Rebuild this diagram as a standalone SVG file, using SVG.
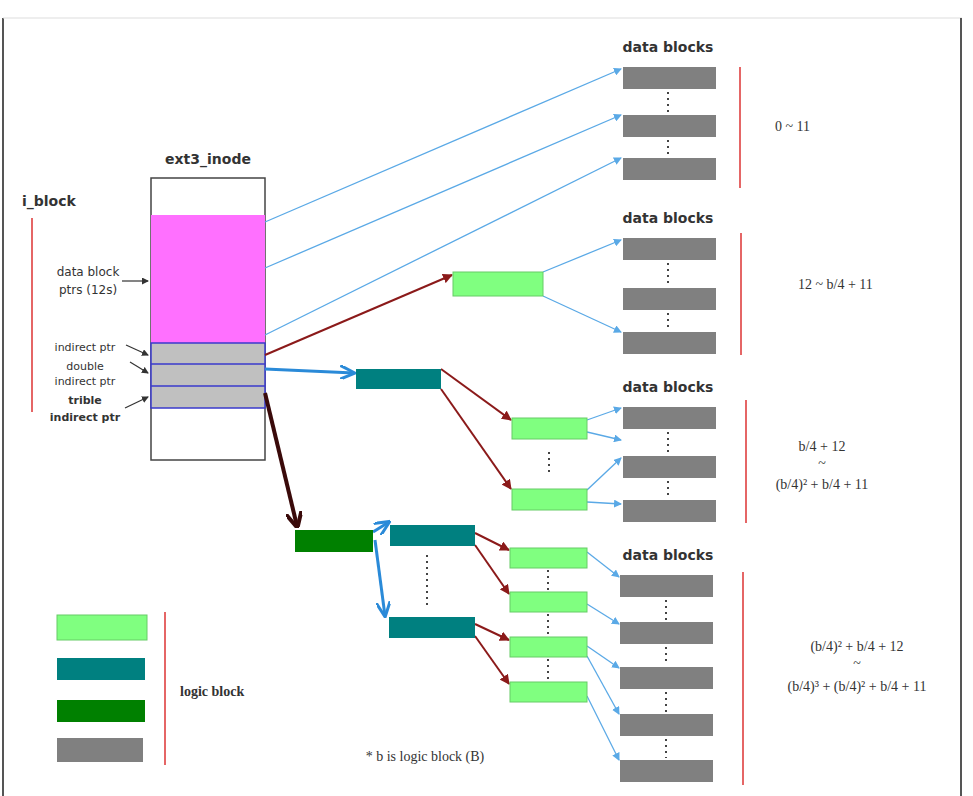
<svg xmlns="http://www.w3.org/2000/svg" width="973" height="796" viewBox="0 0 973 796">
<defs>
<style>
text{font-family:"DejaVu Sans","Liberation Sans",sans-serif;fill:#333}
.g{fill:#808080}.lg{fill:#80ff80;stroke:#6c6;stroke-width:1}.tl{fill:#008080}.dg{fill:#008000}
.b{stroke:#5aa9e6;stroke-width:1.3;fill:none;marker-end:url(#ab)}
.bt{stroke:#2a8ad8;stroke-width:3;fill:none;marker-end:url(#abt)}
.r{stroke:#8b1a1a;stroke-width:2;fill:none;marker-end:url(#ar)}
.k{stroke:#333;stroke-width:1.2;fill:none;marker-end:url(#ak)}
.rb{stroke:#d33;stroke-width:1.5}
.dot{stroke:#444;stroke-width:2;stroke-dasharray:2 4}
.lb{font-weight:bold;font-size:14px}
.f{font-size:14px;font-family:"Liberation Serif",serif}
</style>
<marker id="ab" markerWidth="8" markerHeight="8" refX="7" refY="4" orient="auto" markerUnits="userSpaceOnUse"><path d="M0,0L8,4L0,8z" fill="#5aa9e6"/></marker>
<marker id="abt" markerWidth="16" markerHeight="14" refX="14" refY="7" orient="auto" markerUnits="userSpaceOnUse"><path d="M0,0L15,7L0,14" fill="none" stroke="#2a8ad8" stroke-width="3"/></marker>
<marker id="ar" markerWidth="10" markerHeight="10" refX="9" refY="5" orient="auto" markerUnits="userSpaceOnUse"><path d="M0,0L10,5L0,10z" fill="#8b1a1a"/></marker>
<marker id="ak" markerWidth="7" markerHeight="7" refX="6" refY="3.5" orient="auto" markerUnits="userSpaceOnUse"><path d="M0,0L7,3.5L0,7z" fill="#333"/></marker>
<marker id="ad" markerWidth="16" markerHeight="16" refX="14" refY="8" orient="auto" markerUnits="userSpaceOnUse"><path d="M0,0L16,8L0,16" fill="none" stroke="#3a0a0a" stroke-width="4"/></marker>
</defs>
<rect width="973" height="796" fill="#fff"/>
<line x1="3" y1="18" x2="3" y2="796" stroke="#555" stroke-width="2"/>
<line x1="3" y1="18" x2="962" y2="18" stroke="#ddd"/>
<line x1="961" y1="18" x2="961" y2="796" stroke="#555" stroke-width="2"/>

<g id="inode">
<text x="208" y="164" text-anchor="middle" class="lb" font-size="16">ext3_inode</text>
<rect x="151" y="178" width="114" height="282" fill="#fff" stroke="#444" stroke-width="1.5"/>
<rect x="151" y="215" width="114" height="128" fill="#ff70ff"/>
<rect x="151" y="343" width="114" height="65" fill="#c0c0c0" stroke="#3a3acc" stroke-width="1.5"/>
<line x1="151" y1="364" x2="265" y2="364" stroke="#3a3acc" stroke-width="1.5"/>
<line x1="151" y1="386" x2="265" y2="386" stroke="#3a3acc" stroke-width="1.5"/>
<text x="22" y="206" class="lb">i_block</text>
<line x1="32" y1="218" x2="32" y2="412" class="rb"/>
<text x="88" y="276" text-anchor="middle" font-size="12">data block</text>
<text x="88" y="294" text-anchor="middle" font-size="12">ptrs  (12s)</text>
<text x="85" y="351" text-anchor="middle" font-size="11">indirect ptr</text>
<text x="85" y="370" text-anchor="middle" font-size="11">double</text>
<text x="85" y="385" text-anchor="middle" font-size="11">indirect ptr</text>
<text x="85" y="404" text-anchor="middle" font-size="11" font-weight="bold">trible</text>
<text x="85" y="421" text-anchor="middle" font-size="11" font-weight="bold">indirect ptr</text>
</g>

<g id="connectors">
<path class="k" d="M122,281L148,281"/>
<path class="k" d="M126,345L148,355"/>
<path class="k" d="M130,362L148,373"/>
<path class="k" d="M125,408L148,397"/>
<path class="b" d="M265,222L621,69"/>
<path class="b" d="M265,268L621,115"/>
<path class="b" d="M265,335L621,158"/>
<path class="r" d="M265,355L452,275"/>
<path class="b" d="M543,272L621,240"/>
<path class="b" d="M543,296L621,332"/>
<path class="bt" d="M265,369L354,373"/>
<path class="r" d="M441,369L511,420"/>
<path class="r" d="M441,389L511,489"/>
<path class="b" d="M587,420L621,408"/>
<path class="b" d="M587,432L621,440"/>
<path class="b" d="M587,490L621,458"/>
<path class="b" d="M587,502L621,504"/>
<path d="M265,393L297,526" stroke="#3a0a0a" stroke-width="4" fill="none" marker-end="url(#ad)"/>
<path class="bt" d="M373,532L389,522"/>
<path class="bt" d="M375,540L385,616"/>
<path class="r" d="M475,533L509,550"/>
<path class="r" d="M475,545L509,594"/>
<path class="r" d="M475,624L509,640"/>
<path class="r" d="M475,636L509,684"/>
<path class="b" d="M587,552L619,577"/>
<path class="b" d="M587,604L619,624"/>
<path class="b" d="M587,646L619,668"/>
<path class="b" d="M587,656L619,714"/>
<path class="b" d="M587,696L619,760"/>
</g>

<g id="blocks">
<rect class="lg" x="453" y="272" width="90" height="24"/>
<rect class="tl" x="356" y="369" width="85" height="20"/>
<rect class="lg" x="512" y="418" width="75" height="21"/>
<rect class="lg" x="512" y="489" width="75" height="21"/>
<line class="dot" x1="549" y1="452" x2="549" y2="476"/>
<rect class="dg" x="295" y="530" width="78" height="22"/>
<rect class="tl" x="390" y="525" width="85" height="21"/>
<rect class="tl" x="389" y="617" width="86" height="21"/>
<line class="dot" x1="427" y1="555" x2="427" y2="605"/>
<rect class="lg" x="510" y="548" width="77" height="20"/>
<rect class="lg" x="510" y="592" width="77" height="20"/>
<rect class="lg" x="510" y="637" width="77" height="20"/>
<rect class="lg" x="510" y="682" width="77" height="20"/>
<line class="dot" x1="548" y1="570" x2="548" y2="590"/>
<line class="dot" x1="548" y1="614" x2="548" y2="634"/>
<line class="dot" x1="548" y1="659" x2="548" y2="680"/>
</g>

<g id="data1">
<text x="668" y="52" text-anchor="middle" class="lb" font-size="13">data blocks</text>
<rect class="g" x="623" y="67" width="93" height="22"/>
<rect class="g" x="623" y="115" width="93" height="22"/>
<rect class="g" x="623" y="158" width="93" height="22"/>
<line class="dot" x1="668" y1="92" x2="668" y2="112"/><line class="dot" x1="668" y1="140" x2="668" y2="156"/>
<line x1="740" y1="67" x2="740" y2="188" class="rb"/>
<text x="775" y="131" class="f">0 ~ 11</text>
</g>
<g id="data2">
<text x="668" y="223" text-anchor="middle" class="lb" font-size="13">data blocks</text>
<rect class="g" x="623" y="238" width="93" height="22"/>
<rect class="g" x="623" y="288" width="93" height="22"/>
<rect class="g" x="623" y="332" width="93" height="22"/>
<line class="dot" x1="668" y1="263" x2="668" y2="285"/><line class="dot" x1="668" y1="313" x2="668" y2="330"/>
<line x1="741" y1="233" x2="741" y2="355" class="rb"/>
<text x="798" y="289" class="f">12 ~ b/4 + 11</text>
</g>
<g id="data3">
<text x="668" y="392" text-anchor="middle" class="lb" font-size="13">data blocks</text>
<rect class="g" x="623" y="407" width="93" height="22"/>
<rect class="g" x="623" y="456" width="93" height="22"/>
<rect class="g" x="623" y="500" width="93" height="22"/>
<line class="dot" x1="668" y1="432" x2="668" y2="453"/><line class="dot" x1="668" y1="481" x2="668" y2="498"/>
<line x1="746" y1="400" x2="746" y2="523" class="rb"/>
<text x="822" y="451" text-anchor="middle" class="f">b/4 + 12</text>
<text x="822" y="468" text-anchor="middle" class="f">~</text>
<text x="822" y="489" text-anchor="middle" class="f">(b/4)² + b/4 + 11</text>
</g>
<g id="data4">
<text x="668" y="560" text-anchor="middle" class="lb" font-size="13">data blocks</text>
<rect class="g" x="620" y="575" width="93" height="22"/>
<rect class="g" x="620" y="622" width="93" height="22"/>
<rect class="g" x="620" y="667" width="93" height="22"/>
<rect class="g" x="620" y="714" width="93" height="22"/>
<rect class="g" x="620" y="760" width="93" height="22"/>
<line class="dot" x1="666" y1="600" x2="666" y2="620"/><line class="dot" x1="666" y1="647" x2="666" y2="665"/>
<line class="dot" x1="666" y1="692" x2="666" y2="712"/><line class="dot" x1="666" y1="739" x2="666" y2="758"/>
<line x1="743" y1="572" x2="743" y2="785" class="rb"/>
<text x="857" y="651" text-anchor="middle" class="f">(b/4)² + b/4 + 12</text>
<text x="857" y="668" text-anchor="middle" class="f">~</text>
<text x="857" y="691" text-anchor="middle" class="f">(b/4)³ + (b/4)² + b/4 + 11</text>
</g>

<g id="legend">
<rect class="lg" x="57" y="615" width="90" height="25"/>
<rect class="tl" x="57" y="658" width="88" height="22"/>
<rect class="dg" x="57" y="700" width="88" height="22"/>
<rect class="g" x="57" y="738" width="86" height="24"/>
<line x1="165" y1="612" x2="165" y2="765" class="rb"/>
<text x="180" y="696" class="f" font-weight="bold">logic block</text>
<text x="425" y="761" text-anchor="middle" class="f">* b is logic block (B)</text>
</g>
</svg>
